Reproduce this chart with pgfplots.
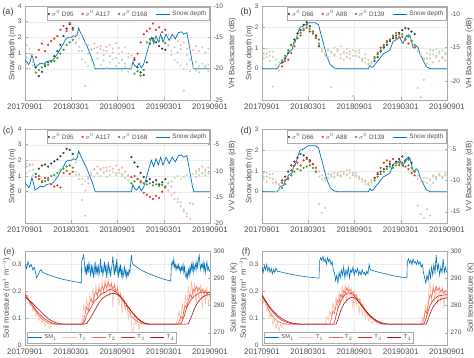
\documentclass[border=0pt]{standalone}
\usepackage{pgfplots}
\pgfplotsset{compat=1.18}
\usepackage{pgfplotstable}
\usepackage{fontspec}
\setmainfont{Liberation Sans}

\definecolor{sblue}{RGB}{0,114,189}
\definecolor{Dc}{RGB}{60,60,60}
\definecolor{Dl}{RGB}{200,200,200}
\definecolor{Ac}{RGB}{230,60,40}
\definecolor{Al}{RGB}{246,185,172}
\definecolor{Gc}{RGB}{60,160,60}
\definecolor{Gl}{RGB}{185,225,178}
\definecolor{Tone}{RGB}{250,190,170}
\definecolor{Ttwo}{RGB}{240,110,85}
\definecolor{Tthree}{RGB}{220,45,35}
\definecolor{Tfour}{RGB}{160,20,25}
\definecolor{axc}{RGB}{170,170,170}
\definecolor{txc}{RGB}{80,80,80}

\pgfplotsset{
 base/.style={scale only axis, width=185pt, height=94pt, xmin=0, xmax=24,
   xtick={0,6,12,18,24}, xticklabels={20170901,20180301,20180901,20190301,20190901},
   tick align=inside, major tick length=2.5pt,
   axis line style={axc, line width=0.4pt}, tick style={axc, line width=0.4pt},
   xticklabel style={font=\fontsize{8}{9}\selectfont, text=txc},
   yticklabel style={font=\fontsize{6.5}{7}\selectfont, text=txc},
   label style={font=\fontsize{7.8}{9}\selectfont, text=txc},
   /pgf/number format/assume math mode=true, anchor=south west},
 lefta/.style={base, ytick pos=left, xtick pos=bottom, grid=major, major grid style={gray!15, line width=0.3pt}, ylabel shift=-5pt},
 righta/.style={base, axis y line*=right, axis x line=none, ylabel shift=-1pt},
 sc/.style={only marks, mark=*, mark size=0.85pt, forget plot},
 snow/.style={sblue, line width=0.7pt},
 dotleg/.style={legend image code/.code={\draw[##1] plot[mark=*] coordinates {(0.08cm,0cm)};}},
 lineleg/.style={legend image code/.code={\draw[##1] (0cm,0cm) -- (0.5cm,0cm);}},
 bleg/.style={legend style={at={(0.995,0.985)}, anchor=north east, font=\fontsize{6.4}{7}\selectfont, text=txc, draw=axc, inner sep=0.7pt, legend columns=4, /tikz/every even column/.append style={column sep=6pt}}, legend cell align=left},
 eleg/.style={lineleg, legend style={at={(0.01,0.02)}, anchor=south west, font=\fontsize{5.8}{6}\selectfont, text=txc, draw=axc, inner sep=0.5pt, legend columns=5, /tikz/every even column/.append style={column sep=3pt}}, legend cell align=left},
}

\newcommand{\scat}[3]{%
 \addplot[sc, Dl] table[x=t,y=D]{#1};
 \addplot[sc, Al] table[x=t,y=A]{#1};
 \addplot[sc, Gl] table[x=t,y=G]{#1};
 \addplot[sc, Dc, restrict x to domain=#2] table[x=t,y=D]{#1};
 \addplot[sc, Ac, restrict x to domain=#2] table[x=t,y=A]{#1};
 \addplot[sc, Gc, restrict x to domain=#2] table[x=t,y=G]{#1};
 \addplot[sc, Dc, restrict x to domain=#3] table[x=t,y=D]{#1};
 \addplot[sc, Ac, restrict x to domain=#3] table[x=t,y=A]{#1};
 \addplot[sc, Gc, restrict x to domain=#3] table[x=t,y=G]{#1};
}
\newcommand{\bsleg}[3]{%
 \addlegendimage{only marks, mark=*, mark size=0.9pt, Dc, dotleg}\addlegendentry{$\sigma^0$ #1}
 \addlegendimage{only marks, mark=*, mark size=0.9pt, Ac, dotleg}\addlegendentry{$\sigma^0$ #2}
 \addlegendimage{only marks, mark=*, mark size=0.9pt, Gc, dotleg}\addlegendentry{$\sigma^0$ #3}
 \addlegendimage{sblue, line width=0.7pt, lineleg}\addlegendentry{Snow depth}
}

\pgfplotstableread{
t s
0 0.55
0.3 0.4
0.5 0.25
0.7 0.5
0.9 0.9
1.1 0.55
1.3 0.1
1.6 0.2
2.0 0.35
2.4 0.3
2.8 0.45
3.2 0.5
3.6 0.55
4.0 0.8
4.3 1.0
4.6 1.3
5.0 1.6
5.3 1.9
5.6 2.0
6.0 2.0
6.3 2.1
6.6 2.05
6.8 2.2
6.95 2.6
7.2 2.3
7.6 1.9
8.0 1.5
8.4 1.0
8.8 0.5
9.1 0.0
13.8 0.0
14.0 0.45
14.2 0.2
14.5 0.1
14.8 0.35
15.1 0.05
15.4 0.3
15.8 1.0
16.2 1.7
16.4 2.0
16.7 1.6
17.0 2.1
17.3 1.7
17.6 2.2
17.9 1.7
18.3 2.2
18.7 1.8
19.1 2.2
19.5 1.9
19.9 2.3
20.3 2.35
20.6 2.2
21.0 2.3
21.3 1.5
21.7 0.4
21.9 0.0
24 0.0
}\snowA

\pgfplotstableread{
t s
0 0.0
1.95 0.0
2.16 0.1
2.37 0.25
2.8 0.3
3.0 0.5
3.2 0.6
3.45 0.8
3.66 0.85
3.9 0.9
4.1 1.2
4.3 1.3
4.5 1.5
4.74 1.8
4.96 2.0
5.17 2.0
5.4 2.05
5.6 2.1
6.03 2.2
6.47 2.2
6.9 2.2
7.33 2.1
7.54 1.8
7.76 1.5
7.97 1.2
8.19 0.9
8.4 0.6
8.84 0.2
9.27 0.05
9.7 0.0
13.8 0.0
14.0 0.15
14.2 0.05
14.44 0.1
14.87 0.3
15.3 0.5
15.7 0.7
16.2 0.8
16.6 0.9
16.8 1.1
17.0 1.3
17.5 1.4
17.9 1.5
18.1 1.3
18.3 1.2
18.5 1.4
18.75 1.6
18.97 1.5
19.2 1.6
19.4 1.3
19.6 1.0
19.8 1.0
20.0 1.1
20.26 1.0
20.5 0.7
20.9 0.4
21.3 0.1
21.8 0.0
24 0.0
}\snowB

\pgfplotstableread{
t D A G
0.2 -18.2 -16.3 -19.2
0.6 -17.6 -16.8 -20.0
1.0 -18.9 -17.8 -19.5
1.4 -19.8 -18.2 -20.6
1.8 -21.2 -17.0 -20.2
2.2 -20.5 -16.0 -19.8
2.6 -19.6 -17.2 -19.3
3.0 -19.0 -16.2 -19.4
3.4 -18.8 -15.6 -18.9
3.8 -18.0 -15.2 -18.8
4.2 -17.2 -14.8 -18.3
4.6 -16.2 -13.8 -17.6
5.0 -14.8 -13.2 -17.0
5.4 -13.6 -14.0 -16.2
5.8 -12.9 -12.7 -15.8
6.2 -13.5 -13.8 -15.4
6.6 -15.8 -14.6 -16.0
7.0 -16.5 -15.2 -17.2
7.4 -17.2 -14.6 -18.5
7.8 -22.8 -15.8 -19.0
8.2 -17.6 -16.2 -19.6
8.6 -17.0 -16.9 -18.6
9.0 -16.8 -16.0 -19.8
9.4 -17.5 -16.6 -18.4
9.8 -16.9 -16.4 -19.4
10.2 -17.8 -17.1 -18.7
10.6 -17.2 -16.5 -19.9
11.0 -18.0 -16.2 -19.0
11.4 -17.4 -16.8 -18.5
11.8 -18.3 -15.9 -19.6
12.2 -17.6 -16.7 -19.1
12.6 -18.6 -17.3 -20.3
13.0 -19.2 -16.6 -19.7
13.4 -18.2 -17.6 -20.5
13.8 -19.5 -17.9 -19.8
14.2 -18.6 -18.3 -20.8
14.6 -19.8 -17.6 -20.4
15.0 -20.6 -15.8 -21.1
15.4 -21.0 -14.5 -20.2
15.8 -19.0 -14.0 -15.8
16.2 -16.0 -13.6 -15.3
16.6 -15.2 -12.8 -15.5
17.0 -15.8 -13.8 -15.0
17.4 -16.4 -13.4 -15.6
17.8 -16.8 -14.2 -15.1
18.2 -17.0 -13.8 -15.9
18.6 -16.2 -14.6 -16.4
19.0 -17.2 -15.2 -17.8
19.4 -16.6 -14.8 -18.6
19.8 -17.4 -15.6 -19.0
20.2 -16.9 -16.2 -19.5
20.6 -23.5 -15.8 -20.1
21.0 -17.8 -16.8 -19.3
21.4 -18.6 -16.2 -20.4
21.8 -19.6 -17.0 -19.8
22.2 -20.3 -16.4 -18.9
22.6 -20.6 -17.2 -19.6
23.0 -20.0 -16.6 -19.2
23.4 -19.5 -17.4 -19.8
23.8 -20.4 -16.8 -19.4
}\ta

\pgfplotstableread{
t D A G
0.2 -15.8 -16.6 -16.0
0.6 -16.4 -15.9 -15.2
1.0 -15.6 -17.0 -16.2
1.4 -20.8 -16.4 -15.6
1.8 -16.8 -17.6 -16.8
2.2 -17.6 -18.4 -17.2
2.6 -17.2 -17.8 -16.9
3.0 -16.6 -17.0 -16.2
3.4 -15.8 -16.8 -15.4
3.8 -14.6 -15.8 -14.6
4.2 -13.8 -14.8 -14.2
4.6 -12.9 -13.6 -13.6
5.0 -12.4 -13.2 -12.8
5.4 -11.6 -12.4 -12.2
5.8 -11.2 -12.0 -11.6
6.2 -11.8 -12.6 -12.2
6.6 -12.6 -12.9 -12.6
7.0 -13.2 -13.4 -13.6
7.4 -14.8 -13.8 -14.4
7.8 -15.6 -15.2 -15.4
8.2 -16.2 -15.8 -16.0
8.6 -15.4 -16.4 -15.2
9.0 -20.9 -15.6 -15.8
9.4 -16.0 -16.2 -15.0
9.8 -15.2 -15.4 -15.6
10.2 -16.6 -16.0 -14.8
10.6 -15.8 -16.8 -15.6
11.0 -16.4 -15.8 -15.2
11.4 -15.6 -16.6 -16.0
11.8 -22.2 -16.2 -15.4
12.2 -16.2 -15.6 -16.2
12.6 -15.4 -16.4 -15.8
13.0 -16.8 -17.0 -16.6
13.4 -16.0 -16.6 -17.2
13.8 -17.4 -17.6 -16.8
14.2 -17.8 -17.2 -17.4
14.6 -17.0 -16.4 -16.6
15.0 -16.4 -15.8 -16.0
15.4 -15.6 -15.0 -15.4
15.8 -15.0 -14.6 -14.8
16.2 -14.6 -14.0 -14.2
16.6 -14.0 -13.8 -13.8
17.0 -13.6 -13.4 -13.2
17.4 -13.2 -13.6 -12.8
17.8 -12.8 -13.0 -13.4
18.2 -12.4 -13.4 -13.0
18.6 -12.1 -13.8 -13.6
19.0 -12.2 -14.4 -13.2
19.4 -12.6 -14.0 -14.0
19.8 -13.0 -15.0 -14.6
20.2 -21.0 -15.6 -15.4
20.6 -22.4 -16.2 -16.0
21.0 -19.8 -16.8 -16.6
21.4 -16.6 -17.4 -15.8
21.8 -16.0 -16.6 -15.4
22.2 -15.4 -17.2 -16.0
22.6 -16.2 -16.4 -15.2
23.0 -15.6 -17.0 -15.8
23.4 -16.4 -16.6 -15.4
23.8 -15.8 -16.9 -16.0
}\tb

\pgfplotstableread{
t D A G
0.2 -9.2 -8.6 -10.4
0.6 -8.8 -9.0 -10.0
1.0 -9.8 -8.8 -10.8
1.4 -10.6 -11.2 -10.6
1.8 -9.6 -11.6 -11.0
2.2 -9.0 -12.0 -12.2
2.6 -8.8 -11.4 -12.0
3.0 -9.2 -11.8 -11.4
3.4 -8.6 -12.6 -11.0
3.8 -8.2 -13.0 -10.8
4.2 -7.8 -12.8 -10.4
4.6 -7.2 -13.2 -10.0
5.0 -6.6 -10.4 -9.6
5.4 -5.8 -10.0 -9.2
5.8 -6.0 -10.6 -9.0
6.2 -6.8 -10.2 -9.4
6.6 -8.4 -10.8 -10.2
7.0 -10.6 -11.6 -10.8
7.4 -15.6 -12.6 -11.6
7.8 -18.6 -13.8 -12.0
8.2 -12.4 -11.2 -11.6
8.6 -10.8 -10.4 -10.8
9.0 -9.8 -9.6 -11.2
9.4 -10.4 -9.2 -10.6
9.8 -9.6 -9.8 -11.0
10.2 -10.2 -9.4 -10.4
10.6 -9.4 -10.0 -11.2
11.0 -10.0 -9.2 -10.8
11.4 -9.6 -9.6 -10.2
11.8 -10.4 -9.0 -10.8
12.2 -9.8 -9.8 -10.4
12.6 -10.6 -9.4 -11.0
13.0 -10.2 -10.2 -11.4
13.4 -11.0 -10.8 -11.8
13.8 -7.4 -11.2 -12.4
14.2 -8.4 -11.0 -12.0
14.6 -9.2 -11.6 -11.6
15.0 -10.4 -12.0 -12.2
15.4 -11.2 -14.2 -12.4
15.8 -12.0 -14.6 -12.6
16.2 -11.6 -15.0 -12.4
16.6 -12.2 -15.4 -12.8
17.0 -11.8 -14.8 -12.6
17.4 -12.6 -15.2 -12.9
17.8 -12.2 -14.0 -12.7
18.2 -11.6 -13.2 -13.0
18.6 -12.4 -13.8 -12.2
19.0 -13.0 -14.6 -12.0
19.4 -14.2 -15.4 -11.4
19.8 -15.4 -16.0 -11.0
20.2 -16.0 -16.8 -11.6
20.6 -17.8 -17.4 -11.2
21.0 -18.8 -18.2 -10.8
21.4 -16.2 -19.2 -11.4
21.8 -12.6 -16.4 -10.6
22.2 -11.2 -10.0 -10.4
22.6 -10.8 -9.6 -10.0
23.0 -10.4 -9.2 -10.6
23.4 -10.9 -9.8 -10.2
23.8 -10.6 -9.4 -10.4
}\tc

\pgfplotstableread{
t D A G
0.2 -9.4 -8.8 -9.8
0.6 -8.8 -9.4 -10.2
1.0 -9.6 -9.0 -9.6
1.4 -9.0 -9.8 -10.4
1.8 -10.2 -10.4 -11.8
2.2 -10.6 -10.8 -11.6
2.6 -10.0 -10.4 -11.2
3.0 -9.4 -10.0 -10.6
3.4 -8.6 -9.6 -9.8
3.8 -7.6 -8.4 -9.2
4.2 -7.0 -7.6 -8.6
4.6 -6.4 -7.2 -8.2
5.0 -5.8 -7.6 -8.4
5.4 -6.0 -6.8 -8.0
5.8 -6.4 -6.6 -7.8
6.2 -6.8 -7.0 -7.6
6.6 -7.4 -7.4 -8.0
7.0 -8.6 -8.0 -8.6
7.4 -13.8 -8.6 -9.4
7.8 -15.2 -9.2 -9.8
8.2 -14.4 -9.6 -10.0
8.6 -9.6 -9.0 -9.6
9.0 -9.0 -9.4 -9.2
9.4 -9.4 -8.8 -9.6
9.8 -8.8 -9.2 -9.0
10.2 -9.2 -8.6 -9.4
10.6 -8.6 -9.0 -8.8
11.0 -9.0 -8.4 -9.2
11.4 -8.4 -8.8 -9.6
11.8 -8.8 -9.2 -9.0
12.2 -9.2 -8.8 -9.4
12.6 -9.6 -9.4 -9.8
13.0 -9.8 -9.8 -10.2
13.4 -10.2 -10.0 -10.6
13.8 -10.6 -10.4 -10.8
14.2 -10.0 -10.2 -10.4
14.6 -9.6 -9.6 -10.0
15.0 -9.0 -8.8 -9.4
15.4 -8.6 -8.0 -9.0
15.8 -8.2 -7.2 -8.6
16.2 -7.8 -6.8 -8.2
16.6 -7.4 -7.0 -7.8
17.0 -7.6 -6.6 -8.0
17.4 -7.0 -7.2 -7.6
17.8 -6.6 -7.6 -7.2
18.2 -6.2 -7.2 -7.4
18.6 -6.8 -7.8 -7.0
19.0 -6.4 -8.2 -7.6
19.4 -7.2 -8.8 -8.0
19.8 -8.6 -9.2 -8.6
20.2 -14.0 -9.8 -9.2
20.6 -15.4 -10.2 -9.8
21.0 -16.0 -9.6 -10.2
21.4 -14.6 -10.4 -9.6
21.8 -15.6 -9.8 -10.0
22.2 -10.4 -9.2 -9.4
22.6 -9.4 -9.6 -9.8
23.0 -9.0 -9.0 -9.2
23.4 -9.6 -9.4 -9.6
23.8 -9.2 -8.8 -9.0
}\td

\pgfplotstableread{
x y
0 0.30
0.2 0.285
0.4 0.31
0.6 0.29
0.8 0.30
1.0 0.28
1.2 0.29
1.4 0.265
1.5 0.25
1.7 0.26
1.9 0.275
2.1 0.28
2.3 0.27
3 0.262
4 0.252
5 0.244
6 0.238
7 0.233
7.3 0.231
7.35 0.31
7.5 0.325
7.6 0.335
7.7 0.31
7.8 0.27
7.9 0.29
8.0 0.26
8.1 0.30
8.2 0.27
8.3 0.31
8.4 0.28
8.5 0.26
8.6 0.30
8.7 0.27
8.8 0.29
8.9 0.25
9.0 0.28
9.1 0.31
9.2 0.26
9.3 0.29
9.4 0.27
9.5 0.30
9.6 0.26
9.7 0.28
9.8 0.32
9.9 0.27
10.0 0.29
10.1 0.26
10.2 0.28
10.3 0.31
10.4 0.27
10.5 0.30
10.6 0.25
10.7 0.28
10.8 0.31
10.9 0.27
11.0 0.29
11.1 0.255
11.2 0.28
11.3 0.30
11.4 0.33
11.5 0.29
11.6 0.26
11.7 0.30
11.8 0.27
11.9 0.32
12.0 0.28
12.1 0.25
12.2 0.29
12.3 0.27
12.4 0.30
12.5 0.26
12.6 0.28
12.7 0.25
12.8 0.27
12.9 0.29
13.0 0.26
13.1 0.28
13.2 0.25
13.3 0.27
13.4 0.26
13.5 0.28
13.6 0.27
13.7 0.30
13.8 0.335
13.9 0.31
14.0 0.30
15 0.28
16 0.266
17 0.255
18 0.245
18.9 0.238
19.0 0.30
19.1 0.31
19.2 0.295
19.3 0.32
19.4 0.29
19.5 0.30
19.6 0.28
19.7 0.295
19.8 0.285
19.9 0.30
20.0 0.28
20.1 0.29
20.2 0.27
20.3 0.29
20.4 0.28
20.5 0.30
20.6 0.27
20.7 0.29
20.8 0.26
20.9 0.25
21.0 0.27
21.1 0.25
21.2 0.28
21.3 0.26
21.4 0.29
21.5 0.27
21.6 0.30
21.7 0.28
21.8 0.31
21.9 0.27
22.0 0.29
22.1 0.30
22.2 0.28
22.3 0.31
22.4 0.29
22.5 0.32
22.6 0.335
22.7 0.30
22.8 0.28
22.9 0.30
23.0 0.29
23.1 0.31
23.2 0.28
23.3 0.30
23.4 0.27
23.5 0.29
23.6 0.31
23.7 0.28
23.8 0.29
23.9 0.275
24.0 0.28
}\smE

\pgfplotstableread{
x y
0 286
0.2 283
0.4 284
0.6 280
0.8 281.5
1.0 278
1.2 279.5
1.4 276
1.6 277.5
1.8 274.5
2.0 276
2.2 273.5
2.4 274.8
2.6 272.5
2.8 274
3.0 273.4
3.2 271.5
3.4 273.15
7.3 273.15
7.5 276
7.6 280
7.8 278
8.0 282
8.2 279
8.4 284
8.6 281
8.8 286
9.0 282
9.2 287.5
9.4 283
9.6 288
9.8 284
10.0 289.5
10.2 284.5
10.4 290
10.6 285
10.8 290.5
11.0 283
11.2 289
11.4 279
11.6 288
11.8 284
12.0 287
12.2 280
12.4 285
12.6 277
12.8 283
13.0 278
13.2 281
13.4 275
13.6 279
13.8 274
14.0 266.5
14.2 276
14.4 273
14.6 275
14.8 271
15.0 274
15.2 273.15
19.6 273.15
19.8 275
20.0 278
20.2 274
20.4 281
20.6 276
20.8 284
21.0 279
21.2 287
21.4 281
21.6 289
21.8 283
22.0 288
22.2 280
22.4 287
22.6 282
22.8 288
23.0 279
23.2 286
23.4 281
23.6 287
23.8 280
24.0 285
}\tOneE

\pgfplotstableread{
x y
0 285
0.25 283
0.5 282
0.75 280.5
1 279.5
1.25 278.5
1.5 277.6
1.75 276.4
2 275.6
2.25 275
2.5 274.6
2.75 274
3 273.7
3.5 273.3
4 273.15
7.4 273.15
7.6 274.5
7.8 277
8 279.5
8.2 278
8.4 281
8.6 282.5
8.8 281
9 284
9.2 285
9.4 283.5
9.6 286
9.8 285
10 287
10.2 285.5
10.4 288
10.6 286.5
10.8 288.5
11 287
11.2 288
11.4 286
11.6 287.5
11.8 285
12 286
12.2 283.5
12.4 284
12.6 281.5
12.8 282
13 279.5
13.2 280
13.4 278
13.6 277.5
13.8 276
14 275.5
14.4 274.5
14.8 273.8
15.2 273.3
15.6 273.15
19.8 273.15
20 274
20.2 276
20.4 275
20.6 278
20.8 280
21 279
21.2 282
21.4 284
21.6 283
21.8 286
22 285
22.2 287
22.4 285.5
22.6 286.5
22.8 285
23 286
23.2 284.5
23.4 285.5
23.6 284
23.8 285
24 284.5
}\tTwoE

\pgfplotstableread{
x y
0 284
0.5 282
1 280
1.5 278
2 276.5
2.5 275.2
3 274.3
3.5 273.6
4 273.2
4.5 273.15
7.5 273.15
7.7 274
8 276.5
8.5 279
9 281.5
9.5 283
10 284.5
10.5 285
11 286
11.5 285.5
12 284.5
12.5 283
13 281
13.5 279
14 277
14.5 275.4
15 274.2
15.5 273.4
16 273.15
20 273.15
20.3 273.6
20.7 276.5
21 279.5
21.5 282
22 283.5
22.5 284.5
23 285
23.5 284.6
24 284.8
}\tThreeE

\pgfplotstableread{
x y
0 283
0.5 282
1 280.8
1.5 279.3
2 277.9
2.5 276.5
3 275.2
3.5 274.3
4 273.7
4.5 273.3
5 273.15
7.6 273.15
8 273.4
8.5 275.5
9 278
9.5 280.5
10 282.5
10.5 283.5
11 284.2
11.5 284.5
12 284
12.5 282.8
13 281
13.5 279
14 277.2
14.5 275.6
15 274.4
15.5 273.6
16 273.2
16.5 273.15
21.0 273.15
21.2 273.3
21.6 276
22 279
22.5 281.5
23 283
23.5 283.8
24 284
}\tFourE

\pgfplotstableread{
x y
0 0.29
0.15 0.27
0.3 0.295
0.45 0.28
0.6 0.30
0.75 0.275
0.9 0.29
1.05 0.27
1.2 0.285
1.35 0.265
1.5 0.28
1.65 0.27
1.8 0.285
2.0 0.275
3 0.268
4 0.262
5 0.257
6 0.253
7 0.25
7.4 0.249
7.45 0.31
7.6 0.325
7.75 0.315
7.9 0.33
8.05 0.31
8.2 0.32
8.35 0.30
8.5 0.325
8.65 0.31
8.8 0.32
8.95 0.30
9.1 0.31
9.25 0.28
9.4 0.27
9.55 0.24
9.7 0.26
9.85 0.23
10.0 0.27
10.15 0.25
10.3 0.28
10.45 0.26
10.6 0.29
10.75 0.25
10.9 0.28
11.05 0.26
11.2 0.29
11.35 0.25
11.5 0.28
11.65 0.27
11.8 0.29
11.95 0.26
12.1 0.28
12.25 0.27
12.4 0.285
12.55 0.26
12.7 0.275
12.85 0.26
13.0 0.28
13.15 0.265
13.3 0.27
13.45 0.26
13.6 0.275
13.75 0.265
13.9 0.30
14.05 0.28
15 0.272
16 0.265
17 0.258
18 0.253
18.8 0.25
18.85 0.31
19.0 0.32
19.15 0.305
19.3 0.315
19.45 0.30
19.6 0.32
19.75 0.305
19.9 0.31
20.05 0.30
20.2 0.315
20.35 0.30
20.5 0.31
20.65 0.29
20.8 0.30
20.95 0.27
21.1 0.25
21.25 0.23
21.4 0.26
21.55 0.24
21.7 0.28
21.85 0.25
22.0 0.29
22.15 0.26
22.3 0.30
22.45 0.27
22.6 0.335
22.75 0.28
22.9 0.30
23.05 0.26
23.2 0.29
23.35 0.27
23.5 0.32
23.65 0.27
23.8 0.29
23.95 0.27
}\smF

\pgfplotstableread{
x y
0 285
0.2 281
0.4 282.5
0.6 278
0.8 279.5
1.0 275.5
1.2 277
1.4 273
1.6 275
1.8 271.5
2.0 274
2.2 270.5
2.4 273.15
2.6 271.8
2.8 273.15
8.2 273.15
8.4 276
8.6 274.5
8.8 278
9.0 276
9.2 281
9.4 278
9.6 283
9.8 279
10.0 285
10.2 281
10.4 287
10.6 282
10.8 288
11.0 281
11.2 287
11.4 283
11.6 286
11.8 279
12.0 285
12.2 280
12.4 283
12.6 277
12.8 282
13.0 276
13.2 280
13.4 275
13.6 278
13.8 274.5
14.0 276.5
14.2 273.5
14.6 274.5
15.0 273.15
20.6 273.15
20.8 276
21.0 274.5
21.2 280
21.4 277
21.6 284
21.8 289
22.0 281
22.2 288
22.4 282
22.6 287
22.8 280
23.0 286
23.2 281
23.4 287
23.6 279
23.8 285
24.0 282
}\tOneF

\pgfplotstableread{
x y
0 284.5
0.25 282
0.5 281
0.75 279
1 277.8
1.25 276.5
1.5 275.5
1.75 274.8
2 274.2
2.5 273.6
3 273.2
3.5 273.15
8.8 273.15
9.0 275
9.2 278
9.4 277
9.6 280
9.8 282
10 281
10.2 284
10.4 283
10.6 285.5
10.8 284.5
11 286.5
11.2 285
11.4 286
11.6 284.5
11.8 285
12 283.5
12.2 284
12.4 282
12.6 282.5
12.8 280.5
13 280.5
13.2 279
13.5 278
13.8 276.8
14.2 275.6
14.6 274.6
15 273.8
15.4 273.3
15.8 273.15
20.8 273.15
21.0 275
21.2 278
21.4 277
21.6 281
21.8 284
22.0 283
22.2 286
22.4 285
22.6 287
22.8 285.5
23.0 286.5
23.2 285
23.4 286
23.6 284.5
23.8 285.5
24.0 285
}\tTwoF

\pgfplotstableread{
x y
0 284
0.5 281.5
1 279
1.5 277.2
2 275.8
2.5 274.7
3 274
3.5 273.5
4 273.2
4.5 273.15
9.3 273.15
9.5 275
9.8 278.5
10.2 281.5
10.6 283.5
11 284.5
11.4 284.6
11.8 284
12.2 282.8
12.6 281.2
13 279.6
13.5 277.6
14 276
14.5 274.8
15 274
15.5 273.4
16 273.15
21 273.15
21.2 274.5
21.5 277.5
21.8 280
22.2 282
22.6 283
23 283.6
23.5 283.8
24 284
}\tThreeF

\pgfplotstableread{
x y
0 283.5
0.5 281.5
1 279.5
1.5 277.8
2 276.4
2.5 275.3
3 274.5
3.5 273.9
4 273.5
4.5 273.3
5 273.15
9.6 273.15
9.8 274.5
10.2 278
10.6 280.5
11 282
11.4 282.8
11.8 283
12.2 282.4
12.6 281.2
13 279.8
13.5 278
14 276.4
14.5 275.2
15 274.3
15.5 273.7
16 273.3
16.5 273.15
21.3 273.15
21.5 274.5
21.8 277
22.2 279.5
22.6 281
23 282
23.5 282.6
24 282.8
}\tFourF

\begin{document}
\begin{tikzpicture}
\useasboundingbox (0,0) rectangle (474pt,358pt);

% ---------- (a)
\begin{axis}[lefta, at={(25pt,258pt)}, ymin=-2, ymax=4, ytick={0,1,2,3,4}, ylabel={Snow depth (m)}]
\addplot[snow] table[x=t,y=s]{\snowA};
\end{axis}
\begin{axis}[righta, at={(25pt,258pt)}, ymin=-25, ymax=-10, ytick={-25,-20,-15,-10}, ylabel={VH Backscatter (dB)}, bleg]
\scat{\ta}{1.2:6.4}{14.0:18.4}
\bsleg{D95}{A117}{D168}
\end{axis}

% ---------- (b)
\begin{axis}[lefta, at={(262pt,258pt)}, ymin=-1.5, ymax=3, ytick={0,1,2,3}, ylabel={Snow depth (m)}]
\addplot[snow] table[x=t,y=s]{\snowB};
\end{axis}
\begin{axis}[righta, at={(262pt,258pt)}, ymin=-22.8, ymax=-8.8, ytick={-20,-15,-10}, ylabel={VH Backscatter (dB)}, bleg]
\scat{\tb}{2.4:7.6}{14.6:20.0}
\bsleg{D66}{A88}{D139}
\end{axis}

% ---------- (c)
\begin{axis}[lefta, at={(25pt,135pt)}, ymin=-2, ymax=4, ytick={0,1,2,3,4}, ylabel={Snow depth (m)}]
\addplot[snow] table[x=t,y=s]{\snowA};
\end{axis}
\begin{axis}[righta, at={(25pt,135pt)}, ymin=-20, ymax=-2, ytick={-20,-15,-10,-5}, ylabel={VV Backscatter (dB)}, bleg]
\scat{\tc}{1.4:6.4}{13.8:18.4}
\bsleg{D95}{A117}{D168}
\end{axis}

% ---------- (d)
\begin{axis}[lefta, at={(262pt,135pt)}, ymin=-1.5, ymax=3, ytick={0,1,2,3}, ylabel={Snow depth (m)}]
\addplot[snow] table[x=t,y=s]{\snowB};
\end{axis}
\begin{axis}[righta, at={(262pt,135pt)}, ymin=-16.8, ymax=-1.8, ytick={-15,-10,-5}, ylabel={VV Backscatter (dB)}, bleg]
\scat{\td}{2.4:7.2}{14.6:19.8}
\bsleg{D66}{A88}{D139}
\end{axis}

% ---------- (e)
\begin{axis}[lefta, at={(25pt,13pt)}, ymin=0, ymax=0.35, ytick={0,0.1,0.2,0.3}, ylabel={Soil moisture (m$^3$ m$^{-3}$)}]
\addplot[sblue, line width=0.6pt] table{\smE};
\end{axis}
\begin{axis}[righta, at={(25pt,13pt)}, ymin=265.5, ymax=300, ytick={270,280,290,300}, ylabel={Soil temperature (K)}, eleg]
\addlegendimage{sblue, line width=0.7pt}\addlegendentry{SM$_1$}
\addplot[Tone, line width=0.6pt] table{\tOneE};\addlegendentry{T$_1$}
\addplot[Ttwo, line width=0.6pt] table{\tTwoE};\addlegendentry{T$_2$}
\addplot[Tthree, line width=0.6pt] table{\tThreeE};\addlegendentry{T$_3$}
\addplot[Tfour, line width=0.6pt] table{\tFourE};\addlegendentry{T$_4$}
\end{axis}

% ---------- (f)
\begin{axis}[lefta, at={(262pt,13pt)}, ymin=0, ymax=0.35, ytick={0,0.1,0.2,0.3}, ylabel={Soil moisture (m$^3$ m$^{-3}$)}]
\addplot[sblue, line width=0.6pt] table{\smF};
\end{axis}
\begin{axis}[righta, at={(262pt,13pt)}, ymin=265.5, ymax=300, ytick={270,280,290,300}, ylabel={Soil temperature (K)}, eleg]
\addlegendimage{sblue, line width=0.7pt}\addlegendentry{SM$_1$}
\addplot[Tone, line width=0.6pt] table{\tOneF};\addlegendentry{T$_1$}
\addplot[Ttwo, line width=0.6pt] table{\tTwoF};\addlegendentry{T$_2$}
\addplot[Tthree, line width=0.6pt] table{\tThreeF};\addlegendentry{T$_3$}
\addplot[Tfour, line width=0.6pt] table{\tFourF};\addlegendentry{T$_4$}
\end{axis}

\node[font=\fontsize{9}{10}\selectfont, text=black!75] at (8pt,346pt) {(a)};
\node[font=\fontsize{9}{10}\selectfont, text=black!75] at (246pt,346pt) {(b)};
\node[font=\fontsize{9}{10}\selectfont, text=black!75] at (8pt,227pt) {(c)};
\node[font=\fontsize{9}{10}\selectfont, text=black!75] at (246pt,227pt) {(d)};
\node[font=\fontsize{9}{10}\selectfont, text=black!75] at (9pt,106pt) {(e)};
\node[font=\fontsize{9}{10}\selectfont, text=black!75] at (246pt,106pt) {(f)};
\end{tikzpicture}
\end{document}
